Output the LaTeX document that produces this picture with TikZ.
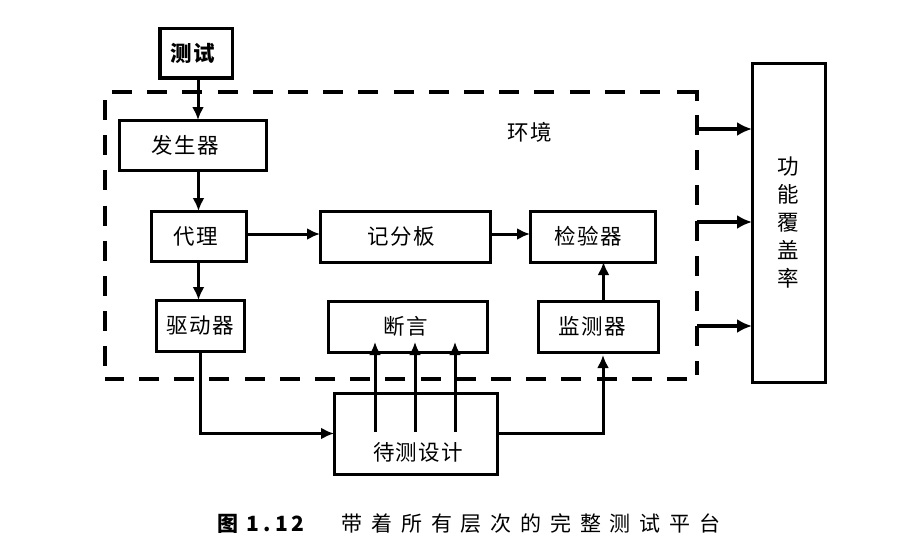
\documentclass[tikz,border=0pt]{standalone}
\usepackage{fontspec}
\newfontfamily\cjk[LetterSpace=6]{Noto Sans CJK SC}
\newfontfamily\capcjk[LetterSpace=42]{Noto Sans CJK SC}
\newfontfamily\capbold[LetterSpace=19]{Noto Sans CJK SC}
\usetikzlibrary{positioning,arrows.meta}
\tikzset{
  blockbox/.style={draw,line width=3pt,inner sep=0pt,outer sep=0pt,font=\cjk\fontsize{21.5}{24}\selectfont},
  envline/.style={line width=4pt,dash pattern=on 20pt off 15.2pt},
  link/.style={line width=3pt,-{Latex[length=13pt,width=12pt]}},
  thicklink/.style={line width=4pt,-{Latex[length=15pt,width=14pt]}},
}
\begin{document}
\begin{tikzpicture}[x=1pt,y=-1pt]
\useasboundingbox (0,0) rectangle (908,558);
% Environment frame
\draw[envline] (112,92) -- (672,92);
\draw[line width=4pt] (677,92) -- (697,92) -- (697,101);
\draw[envline] (697,115) -- (697,375);
\draw[envline] (687,379) -- (105,379);
\draw[envline] (105,100) -- (105,375);
\node[font=\cjk\fontsize{21.5}{24}\selectfont] (env) at (530,132) {环境};
% Blocks
\node[blockbox,line width=3.5pt,minimum width=72.5pt,minimum height=49.5pt,font=\cjk\bfseries\fontsize{21.5}{24}\selectfont] (test) at (196,53) {测试\kern6pt};
\node[blockbox,minimum width=147pt,minimum height=50pt] (gen) at (193,145) {发生器\kern16pt};
\node[blockbox,minimum width=95pt,minimum height=50pt] (agent) at (198.5,236) {代理\kern6pt};
\node[blockbox,minimum width=170pt,minimum height=51pt] (score) at (405,236.5) {记分板\kern8pt};
\node[blockbox,minimum width=125pt,minimum height=51pt] (check) at (592.5,236.5) {检验器\kern8pt};
\node[blockbox,minimum width=88pt,minimum height=51pt] (driver) at (200,325.5) {驱动器};
\node[blockbox,minimum width=159pt,minimum height=51pt] (assert) at (407.5,326.5) {断言\kern4pt};
\node[blockbox,minimum width=120pt,minimum height=51pt] (mon) at (598,326.5) {监测器\kern12pt};
\node[blockbox,minimum width=163pt,minimum height=81pt] (dut) at (415.5,433.5) {};
\node[font=\cjk\fontsize{21.5}{24}\selectfont] (dutlabel) at (418,452) {待测设计};
\node[blockbox,minimum width=73pt,minimum height=319pt,align=center,font=\cjk\fontsize{21.5}{28}\selectfont] (cover) at (788.5,222.5) {功\\能\\覆\\盖\\率};
% Connectors
\draw[link] ([xshift=2pt]test.south) -- ([xshift=5pt]gen.north);
\draw[link] (gen.south-|agent) -- (agent);
\draw[link] (agent) -- (agent|-driver.north);
\draw[link] ([yshift=2pt]agent.east) -- ([yshift=2.5pt]score.west);
\draw[link] ([yshift=2.5pt]score.east) -- ([yshift=2.5pt]check.west);
\draw[link] ([xshift=5.5pt]mon.north) -- ([xshift=11pt]check.south);
\draw[link] (driver.south) |- (dut.west);
\draw[link] (dut.east) -| ([xshift=5pt,yshift=-3pt]mon.south);
\foreach \px in {375,415,455}
  \draw[link] (\px,432) -- (\px,342);
\coordinate (outa) at (697,129);
\coordinate (outb) at (697,222);
\coordinate (outc) at (697,326);
\foreach \n in {outa,outb,outc}
  \draw[thicklink] (\n) -- (cover.west|-\n);
% Caption
\node[font=\capcjk\fontsize{21}{24}\selectfont,anchor=east] (caption) at (724,524) {{\capbold\bfseries 图 1.12}\kern37pt 带着所有层次的完整测试平台};
\end{tikzpicture}
\end{document}
